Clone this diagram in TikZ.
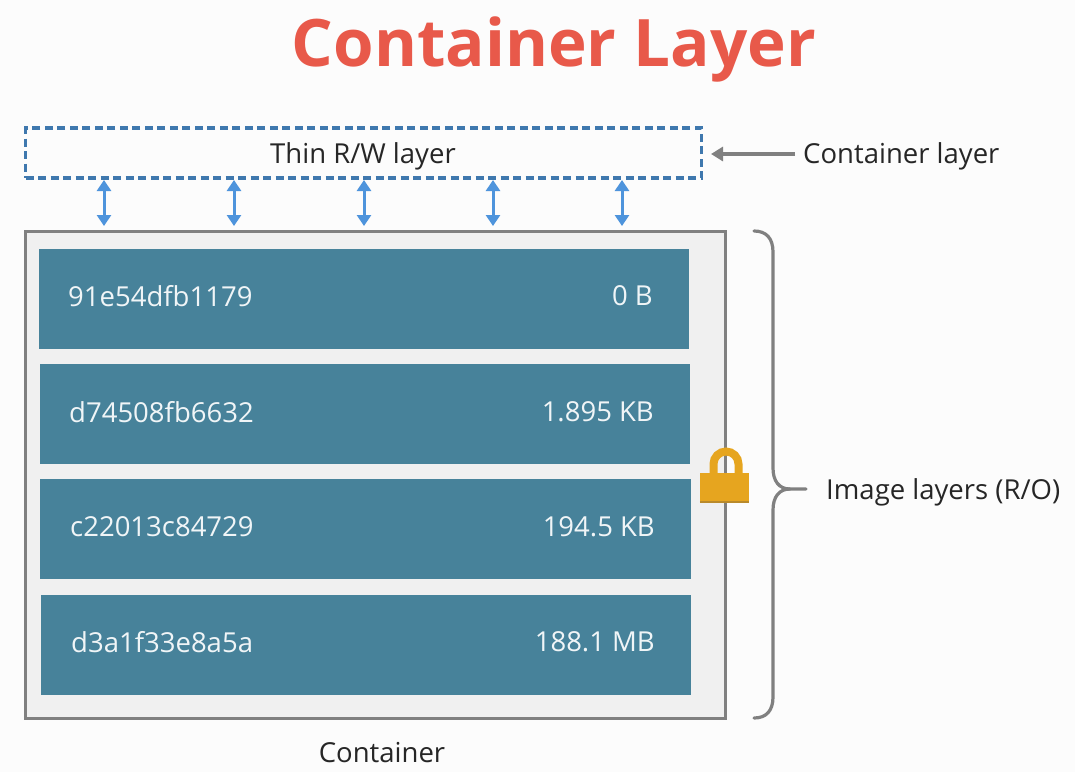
\documentclass[tikz,border=0pt]{standalone}
\usepackage{fontspec}
\setmainfont{Open Sans}
\usepackage{tikz}
\usetikzlibrary{arrows.meta,positioning}
\definecolor{titlered}{HTML}{E8594A}
\definecolor{rowteal}{HTML}{47829A}
\definecolor{dashblue}{HTML}{3F78AE}
\definecolor{arrowblue}{HTML}{4E94DC}
\definecolor{linegray}{HTML}{808080}
\definecolor{lockgold}{HTML}{E6A51F}
\definecolor{lockdark}{HTML}{B98A2B}
\definecolor{panelgray}{HTML}{F0F0F0}
\definecolor{paper}{HTML}{FCFCFC}

\begin{document}
\begin{tikzpicture}[x=1pt,y=-1pt]
    \tikzstyle{lab}=[inner sep=0pt, font=\fontsize{27.5}{32}\selectfont, text=black!85]
    \tikzstyle{rowbox}=[rectangle, fill=rowteal, minimum width=650pt, minimum height=100pt, inner sep=0pt]
    \tikzstyle{rowtext}=[inner sep=0pt, font=\fontsize{27.5}{32}\selectfont, text=white!92!rowteal]
    \tikzstyle{link}=[arrowblue, line width=3pt, {Triangle[length=11pt,width=14pt]}-{Triangle[length=11pt,width=14pt]}]
    \tikzstyle{gline}=[linegray, line width=3.2pt]

    \fill[paper] (0,0) rectangle (1075,772);
    \useasboundingbox (0,0) rectangle (1075,772);

    \node[inner sep=0pt, text=titlered, font=\fontsize{65.5}{76}\selectfont\bfseries] (title) at (554,49) {Container Layer};

    \node[rectangle, draw=dashblue, dash pattern=on 8pt off 4.5pt, line width=3.2pt, minimum width=676pt, minimum height=50pt, inner sep=0pt] (thin) at (363.5,153) {};
    \node[lab] (thintext) at (363,156) {Thin R/W layer};
    \node[lab, anchor=west] (clabel) at (803,156) {Container layer};

    \node[rectangle, draw=linegray, line width=3pt, fill=panelgray, minimum width=700pt, minimum height=487pt, inner sep=0pt] (panel) at (375.5,474.5) {};

    \node[rowbox] (r1) at (363.5,299) {};
    \node[rowbox] (r2) at (364.5,414) {};
    \node[rowbox, minimum width=651pt] (r3) at (365.5,529) {};
    \node[rowbox] (r4) at (366,645) {};

    \node[rowtext, anchor=west] (id1) at (68,296) {91e54dfb1179};
    \node[rowtext, anchor=west] (id2) at (69,412) {d74508fb6632};
    \node[rowtext, anchor=west] (id3) at (70,527) {c22013c84729};
    \node[rowtext, anchor=west] (id4) at (71,642) {d3a1f33e8a5a};
    \node[rowtext, anchor=east] (s1) at (653,296) {0 B};
    \node[rowtext, anchor=east] (s2) at (654,412) {1.895 KB};
    \node[rowtext, anchor=east] (s3) at (655,527) {194.5 KB};
    \node[rowtext, anchor=east] (s4) at (655,642) {188.1 MB};

    \foreach \x/\n in {104/a,234/b,364/c,493/d,622/e}{
        \coordinate (\n1) at (\x,180);
        \coordinate (\n2) at (\x,226);
        \draw[link] (\n1) -- (\n2);
    }

    % pointer to the thin layer
    \coordinate (ptail) at (795,154);
    \coordinate (ptip) at (711,154);
    \draw[gline, -{Triangle[length=12pt,width=14pt]}] (ptail) -- (ptip);

    % brace
    \coordinate (btop) at (754,231);
    \coordinate (bmid) at (806,489);
    \coordinate (bbot) at (754,718);
    \draw[gline, line cap=round] (btop) .. controls (766,231) and (773,238) .. (773,252)
        -- (773,468) .. controls (773,481) and (779,489) .. (790,489) -- (bmid);
    \draw[gline, line cap=round] (bbot) .. controls (766,718) and (773,711) .. (773,697)
        -- (773,510) .. controls (773,497) and (779,489) .. (790,489);
    \node[lab, anchor=west] (ilabel) at (826,492) {Image layers (R/O)};

    % lock
    \draw[lockgold, line width=8pt] (713.5,475) -- (713.5,464) arc[start angle=180, end angle=0, radius=12.5pt] -- (738.5,475);
    \node[rectangle, fill=lockgold, minimum width=49pt, minimum height=29pt, inner sep=0pt] (lock) at (724.5,487.5) {};
    \draw[lockdark, line width=1.5pt] (lock.south west) -- (lock.south east);

    \node[lab] (ctext) at (382,753) {Container};
\end{tikzpicture}
\end{document}
